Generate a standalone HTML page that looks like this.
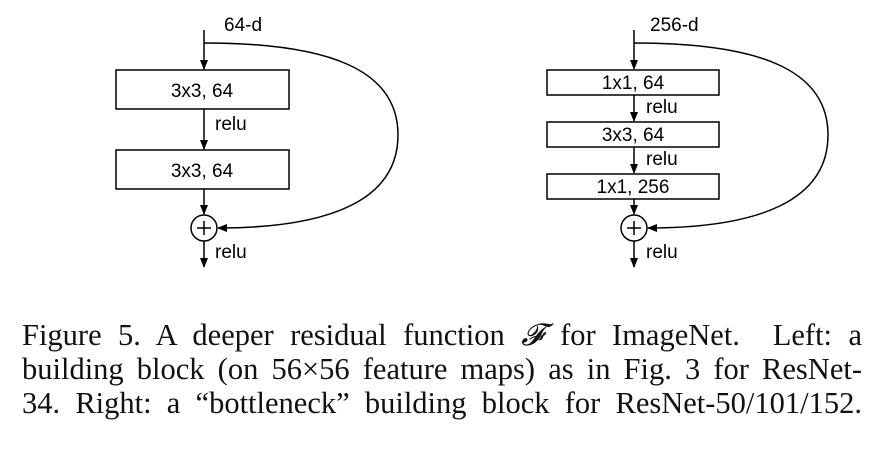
<!DOCTYPE html>
<html><head><meta charset="utf-8"><style>
body{margin:0;background:#fff;width:890px;height:456px;overflow:hidden;position:relative}
svg{position:absolute;left:0;top:0}
.cap{position:absolute;left:22px;width:840px;font-family:"Liberation Serif",serif;font-size:30.5px;line-height:34px;color:#111;text-align:justify;text-align-last:justify;white-space:nowrap}
.cap div{height:34px}
</style></head><body>
<svg width="890" height="300" xmlns="http://www.w3.org/2000/svg" font-family="Liberation Sans, sans-serif">
<defs><marker id="a" markerWidth="10" markerHeight="10" refX="9" refY="5" orient="auto" markerUnits="userSpaceOnUse"><path d="M0,1 L10,5 L0,9 Z" fill="#000"/></marker></defs>
<g stroke="#000" stroke-width="1.5" fill="none">
<line x1="204" y1="30" x2="204" y2="69" marker-end="url(#a)"/>
<rect x="116" y="70" width="173" height="39" fill="#fff"/>
<line x1="204" y1="109" x2="204" y2="149" marker-end="url(#a)"/>
<rect x="116" y="150" width="173" height="39" fill="#fff"/>
<line x1="204" y1="189" x2="204" y2="214" marker-end="url(#a)"/>
<circle cx="204" cy="228" r="13"/>
<line x1="197" y1="228" x2="211" y2="228"/><line x1="204" y1="221" x2="204" y2="235"/>
<line x1="204" y1="241" x2="204" y2="267" marker-end="url(#a)"/>
<path d="M204,43 C330,43 398,70 398,135 C398,200 330,228 218,228" marker-end="url(#a)"/>
<line x1="634" y1="30" x2="634" y2="69" marker-end="url(#a)"/>
<rect x="547" y="70" width="172" height="25" fill="#fff"/>
<line x1="634" y1="95" x2="634" y2="121" marker-end="url(#a)"/>
<rect x="547" y="122" width="172" height="25" fill="#fff"/>
<line x1="634" y1="147" x2="634" y2="173" marker-end="url(#a)"/>
<rect x="547" y="174" width="172" height="25" fill="#fff"/>
<line x1="634" y1="199" x2="634" y2="214" marker-end="url(#a)"/>
<circle cx="634" cy="228" r="13"/>
<line x1="627" y1="228" x2="641" y2="228"/><line x1="634" y1="221" x2="634" y2="235"/>
<line x1="634" y1="241" x2="634" y2="267" marker-end="url(#a)"/>
<path d="M634,43 C760,43 828,70 828,135 C828,200 760,228 648,228" marker-end="url(#a)"/>
</g>
<g font-size="19" fill="#000">
<text x="224" y="31">64-d</text>
<text x="202" y="97" text-anchor="middle">3x3, 64</text>
<text x="215" y="130">relu</text>
<text x="202" y="177" text-anchor="middle">3x3, 64</text>
<text x="215" y="258">relu</text>
<text x="650" y="31">256-d</text>
<text x="633" y="89" text-anchor="middle">1x1, 64</text>
<text x="646" y="113">relu</text>
<text x="633" y="141" text-anchor="middle">3x3, 64</text>
<text x="646" y="165">relu</text>
<text x="633" y="193" text-anchor="middle">1x1, 256</text>
<text x="646" y="258">relu</text>
</g>
</svg>
<div class="cap" style="top:318px">
<div>Figure 5. A deeper residual function <i>𝓕</i> for ImageNet. &nbsp;Left: a</div>
<div>building block (on 56×56 feature maps) as in Fig. 3 for ResNet-</div>
<div>34. Right: a “bottleneck” building block for ResNet-50/101/152.</div>
</div>
</body></html>
